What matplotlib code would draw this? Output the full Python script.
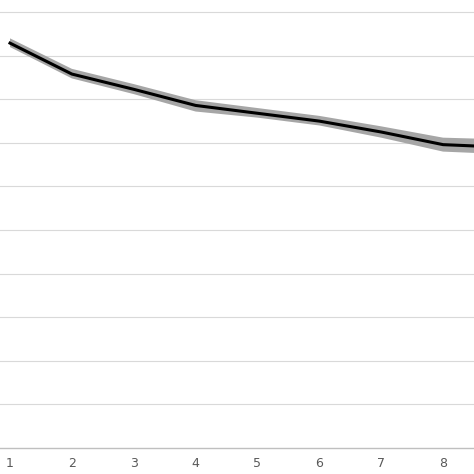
import matplotlib
matplotlib.use("Agg")
import matplotlib.pyplot as plt
import numpy as np

x = [1, 2, 3, 4, 5, 6, 7, 8, 9]
mean = [9.29, 8.58, 8.23, 7.86, 7.68, 7.50, 7.25, 6.96, 6.90]
lower = [9.20, 8.48, 8.12, 7.72, 7.58, 7.40, 7.12, 6.80, 6.74]
upper = [9.40, 8.70, 8.35, 7.98, 7.80, 7.62, 7.38, 7.12, 7.08]
tick_labels = ["1", "2", "3", "4", "5", "6", "7", "8", "9"]

fig = plt.figure(figsize=(4.74, 4.74), dpi=100)
ax = fig.add_axes([0, 0, 1, 1])
xmin, xmax = 0.838, 8.50
ax.set_xlim(xmin, xmax)
ax.set_ylim(-0.6, 10.28)
for g in range(1, 11):
    ax.axhline(g, color="#d9d9d9", lw=0.8, zorder=0)
ax.axhline(0, color="#bfbfbf", lw=1.0, zorder=0)
ax.fill_between(x, lower, upper, color="#a6a6a6", lw=0, zorder=1)
ax.plot(x, mean, color="black", lw=2.2, zorder=2)
for xi, lab in zip(x, tick_labels):
    if xi < xmax:
        ax.text(xi, -0.35, lab, ha="center", va="center", fontsize=9, color="#595959")
ax.axis("off")
fig.savefig("out.png", dpi=100)
